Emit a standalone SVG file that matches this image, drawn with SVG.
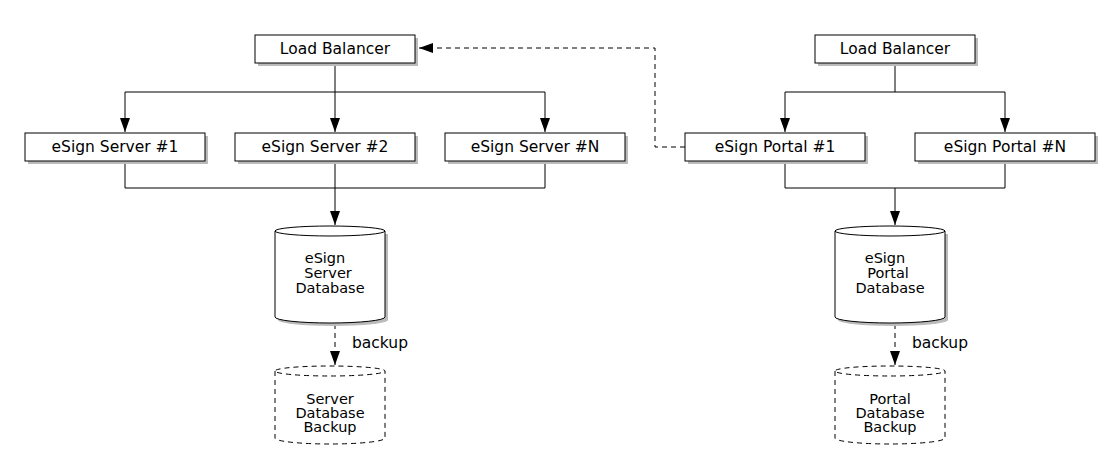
<svg xmlns="http://www.w3.org/2000/svg" width="1120" height="476" viewBox="0 0 1120 476">
<style>
text{font-family:"DejaVu Sans",sans-serif;font-size:15.5px;text-anchor:middle;fill:#000}
text.c{font-size:14.5px}
.b{fill:#fff;stroke:#000;stroke-width:1}
.s{fill:#bbb;stroke:none}
.l{fill:none;stroke:#000;stroke-width:1}
.d{stroke-dasharray:5,4}
</style>
<defs>
<marker id="a" markerWidth="14" markerHeight="10" refX="14" refY="5" orient="auto" markerUnits="userSpaceOnUse" viewBox="0 0 14 10"><path d="M0,0L14,5L0,10z" fill="#000"/></marker>
</defs>
<rect width="1120" height="476" fill="#fff"/>
<g id="connectors">
<path class="l" d="M335,63V92M125,92H545"/>
<path class="l" d="M125,92V132" marker-end="url(#a)"/>
<path class="l" d="M335,92V132" marker-end="url(#a)"/>
<path class="l" d="M545,92V132" marker-end="url(#a)"/>
<path class="l" d="M125,161V188H545V161M335,161V188"/>
<path class="l" d="M335,188V225" marker-end="url(#a)"/>
<path class="l d" d="M335,324V365" marker-end="url(#a)"/>
<text x="380" y="348">backup</text>
<path class="l d" d="M685,147H655V48H419" marker-end="url(#a)"/>
<path class="l" d="M895,63V92M785,92H1005"/>
<path class="l" d="M785,92V132" marker-end="url(#a)"/>
<path class="l" d="M1005,92V132" marker-end="url(#a)"/>
<path class="l" d="M785,161V188H1005V161M895,188V225" marker-end="url(#a)"/>
<path class="l d" d="M895,324V365" marker-end="url(#a)"/>
<text x="940" y="348">backup</text>
</g>
<g id="lb1"><rect class="s" x="258" y="38" width="160" height="28"/><rect class="b" x="255" y="35" width="160" height="28"/><text x="335" y="54">Load Balancer</text></g>
<g id="lb2"><rect class="s" x="818" y="38" width="160" height="28"/><rect class="b" x="815" y="35" width="160" height="28"/><text x="895" y="54">Load Balancer</text></g>
<g id="s1"><rect class="s" x="28" y="136" width="180" height="28"/><rect class="b" x="25" y="133" width="180" height="28"/><text x="115" y="152">eSign Server #1</text></g>
<g id="s2"><rect class="s" x="238" y="136" width="180" height="28"/><rect class="b" x="235" y="133" width="180" height="28"/><text x="325" y="152">eSign Server #2</text></g>
<g id="sN"><rect class="s" x="448" y="136" width="180" height="28"/><rect class="b" x="445" y="133" width="180" height="28"/><text x="535" y="152">eSign Server #N</text></g>
<g id="p1"><rect class="s" x="688" y="136" width="180" height="28"/><rect class="b" x="685" y="133" width="180" height="28"/><text x="775" y="152">eSign Portal #1</text></g>
<g id="pN"><rect class="s" x="918" y="136" width="180" height="28"/><rect class="b" x="915" y="133" width="180" height="28"/><text x="1005" y="152">eSign Portal #N</text></g>
<g id="sdb">
<path class="s" d="M278,234V320A55,6 0 0 0 388,320V234z"/>
<path class="b" d="M275,231V317A55,6 0 0 0 385,317V231A55,5 0 0 0 275,231A55,5 0 0 0 385,231"/>
<text class="c" x="325" y="263">eSign</text><text class="c" x="328" y="278">Server</text><text class="c" x="330" y="293">Database</text></g>
<g id="pdb">
<path class="s" d="M838,234V320A55,6 0 0 0 948,320V234z"/>
<path class="b" d="M835,231V317A55,6 0 0 0 945,317V231A55,5 0 0 0 835,231A55,5 0 0 0 945,231"/>
<text class="c" x="885" y="263">eSign</text><text class="c" x="888" y="278">Portal</text><text class="c" x="890" y="293">Database</text></g>
<g id="sbk"><path class="b d" d="M275,371V438A55,6 0 0 0 385,438V371A55,5 0 0 0 275,371A55,5 0 0 0 385,371"/>
<text class="c" x="330" y="404">Server</text><text class="c" x="330" y="418">Database</text><text class="c" x="330" y="432">Backup</text></g>
<g id="pbk"><path class="b d" d="M835,371V438A55,6 0 0 0 945,438V371A55,5 0 0 0 835,371A55,5 0 0 0 945,371"/>
<text class="c" x="890" y="404">Portal</text><text class="c" x="890" y="418">Database</text><text class="c" x="890" y="432">Backup</text></g>
</svg>
